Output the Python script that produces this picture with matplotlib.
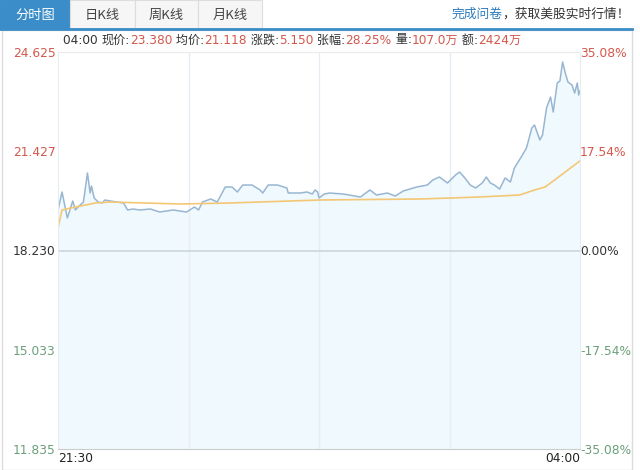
import matplotlib
matplotlib.use('Agg')
import matplotlib.pyplot as plt
from matplotlib.patches import Rectangle
from matplotlib.lines import Line2D

plt.rcParams['font.family'] = ['DejaVu Sans', 'Noto Sans CJK SC']

# 分时数据 (分钟, 从21:30起)
minutes = [0, 3, 7, 11, 13, 15, 19, 22, 24, 25, 27, 30, 33, 35, 39, 44, 49, 52, 56, 61,
           69, 76, 86, 96, 102, 105, 108, 114, 119, 125, 130, 134, 138, 145, 151, 153, 157,
           164, 171, 172, 181, 186, 190, 192, 194, 195, 199, 203, 213, 226, 233, 238, 246,
           252, 258, 268, 276, 280, 285, 291, 297, 300, 304, 308, 312, 317, 320, 323, 326,
           330, 334, 338, 341, 347, 350, 354, 356, 360, 362, 365, 368, 370, 373, 375, 377,
           379, 381, 384, 386, 388, 389, 390]
price = [19.535, 20.115, 19.277, 19.825, 19.535, 19.631, 19.793, 20.727, 20.082, 20.308,
         19.921, 19.793, 19.760, 19.857, 19.825, 19.793, 19.760, 19.535, 19.567, 19.535,
         19.567, 19.470, 19.535, 19.470, 19.631, 19.535, 19.793, 19.889, 19.793, 20.276,
         20.276, 20.115, 20.340, 20.340, 20.179, 20.082, 20.340, 20.340, 20.243, 20.082,
         20.082, 20.115, 20.050, 20.179, 20.115, 19.921, 20.050, 20.082, 20.050, 19.954,
         20.179, 20.018, 20.082, 19.986, 20.147, 20.276, 20.340, 20.501, 20.598, 20.405,
         20.662, 20.759, 20.566, 20.340, 20.243, 20.405, 20.598, 20.405, 20.340, 20.211,
         20.566, 20.437, 20.888, 21.307, 21.532, 22.176, 22.273, 21.790, 21.951, 22.821,
         23.175, 22.692, 23.626, 23.691, 24.303, 23.948, 23.658, 23.562, 23.304, 23.626,
         23.240, 23.380]

# 均价线
avg_minutes = [0, 3, 13, 28, 39, 91, 128, 196, 270, 293, 315, 345, 356, 364, 371, 379, 390]
avg_price = [18.955, 19.535, 19.631, 19.760, 19.793, 19.728, 19.760, 19.857, 19.889, 19.921,
             19.954, 20.018, 20.179, 20.276, 20.501, 20.759, 21.118]

prev_close = 18.230
left_ticks = [24.625, 21.427, 18.230, 15.033, 11.835]
right_labels = ['35.08%', '17.54%', '0.00%', '-17.54%', '-35.08%']
time_labels = ['21:30', '04:00']

tabs = ['分时图', '日K线', '周K线', '月K线']
header_names = ['现价:', '均价:', '涨跌:', '张幅:', '量:', '额:']
header_values = ['23.380', '21.118', '5.150', '28.25%', '107.0万', '2424万']

RED = '#d4574c'
GREEN = '#6a9f7a'
DARK = '#333333'
BLUE = '#3a8dc8'

fig = plt.figure(figsize=(6.4, 4.7), dpi=100)
W, H = 640.0, 470.0

def px(x, y):
    # 像素坐标(左上为原点) -> figure 坐标
    return x / W, 1 - y / H

ax = fig.add_axes([58 / W, 1 - 449 / H, 522 / W, 397 / H])
ax.set_xlim(0, 390)
ax.set_ylim(left_ticks[-1], left_ticks[0])

ax.fill_between(minutes, price, left_ticks[-1], color='#f0f9fd', lw=0)
for gx in [97.5, 195, 292.5]:
    ax.axvline(gx, color='#e6eef3', lw=1)
ax.axhline(prev_close, color='#cdd6dc', lw=1.2)
ax.plot(minutes, price, color='#98b6d2', lw=1.1)
ax.plot(avg_minutes, avg_price, color='#f4c774', lw=1.2)

for s in ['left', 'right']:
    ax.spines[s].set_color('#e6edf1')
ax.spines['top'].set_color('#ebebeb')
ax.spines['bottom'].set_color('#cccccc')

left_colors = [RED, RED, DARK, GREEN, GREEN]
ax.set_yticks(left_ticks)
ax.set_yticklabels(['%.3f' % v for v in left_ticks])
for lab, c in zip(ax.get_yticklabels(), left_colors):
    lab.set_color(c)
ax.tick_params(axis='y', length=0, pad=1.5, labelsize=8.8)

ax2 = ax.twinx()
ax2.set_ylim(ax.get_ylim())
ax2.set_yticks(left_ticks)
ax2.set_yticklabels(right_labels)
for lab, c in zip(ax2.get_yticklabels(), left_colors):
    lab.set_color(c)
ax2.tick_params(axis='y', length=0, pad=0, labelsize=8.8)
for s in ax2.spines.values():
    s.set_visible(False)

ax.set_xticks([0, 390])
ax.set_xticklabels(time_labels)
ax.tick_params(axis='x', length=0, pad=2, labelsize=8.8, labelcolor='#222222')
xl = ax.get_xticklabels()
xl[0].set_ha('left')
xl[1].set_ha('right')

# 外框与标签栏
fig.add_artist(Rectangle(px(2, 470), 630 / W, 440 / H, fill=False, ec='#dcdcdc', lw=1))
tab_edges = [0, 70, 135, 198, 262]
for i, name in enumerate(tabs):
    x0, x1 = tab_edges[i], tab_edges[i + 1]
    fc = BLUE if i == 0 else '#f6f6f6'
    fig.add_artist(Rectangle(px(x0, 28), (x1 - x0) / W, 28 / H, fc=fc, ec='#dddddd' if i else BLUE, lw=0.8))
    fig.text(*px((x0 + x1) / 2, 15), name, ha='center', va='center', fontsize=9.5,
             color='white' if i == 0 else '#444444', family=['Noto Sans CJK SC'])
fig.add_artist(Line2D([0, 632 / W], [1 - 29 / H] * 2, color=BLUE, lw=2))

renderer = fig.canvas.get_renderer()

def put_pieces(x, y, pieces, fontsize, ha='left'):
    texts = []
    for s, c in pieces:
        t = fig.text(0, 0, s, color=c, fontsize=fontsize, va='center')
        texts.append(t)
    widths = [t.get_window_extent(renderer).width for t in texts]
    total = sum(widths)
    cur = x - total if ha == 'right' else x
    for t, w in zip(texts, widths):
        t.set_position(px(cur, y))
        cur += w

pieces = [('04:00 ', DARK)]
for n, v in zip(header_names, header_values):
    pieces.append((('' if n == header_names[0] else ' ') + n, DARK))
    pieces.append((v, RED))
put_pieces(63, 40, pieces, 8.7)

put_pieces(630, 14, [('完成问卷', '#2b7bbf'), ('，获取美股实时行情！', DARK)], 9.2, ha='right')

fig.savefig('out.png', dpi=100)
